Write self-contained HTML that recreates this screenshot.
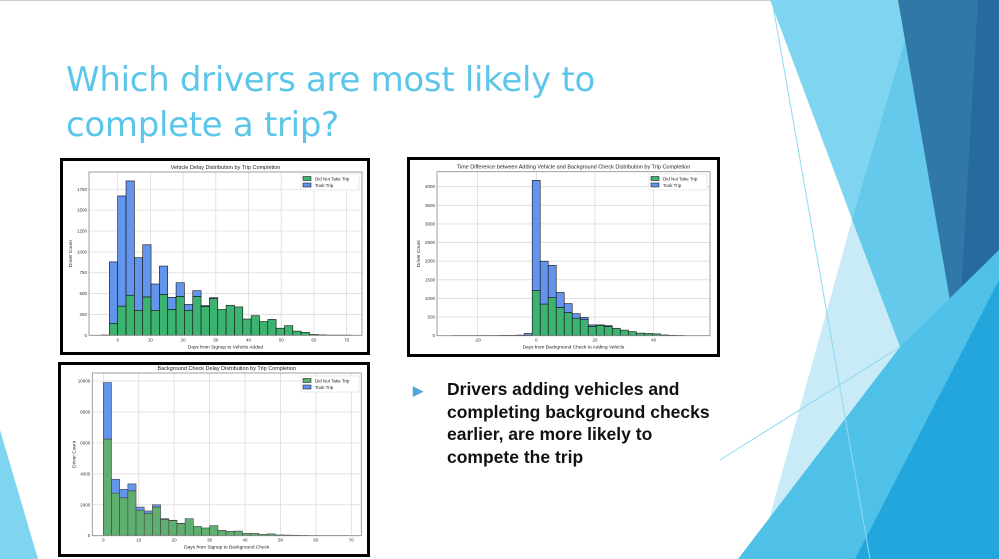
<!DOCTYPE html>
<html><head><meta charset="utf-8">
<style>
body{margin:0;width:999px;height:559px;overflow:hidden;background:#fff;font-family:"Liberation Sans",sans-serif;position:relative}
#deco{position:absolute;left:0;top:0}
.title{position:absolute;left:66px;top:58px;font-size:34px;line-height:45px;color:#5bc6ea;font-family:"DejaVu Sans","Liberation Sans",sans-serif;letter-spacing:-0.3px}
.box{position:absolute;border:3px solid #000;background:#fff;box-sizing:border-box}
.bullet{position:absolute;left:413px;top:378px;font-size:17.5px;line-height:22.5px;color:#111;font-weight:bold;font-family:"Liberation Sans",sans-serif}
.bullet span.arr{position:absolute;left:0;top:2px;color:#4fa8d8;font-size:13px}
.bullet div{margin-left:34px;width:270px}
#charts{position:absolute;left:0;top:0}
</style></head><body>
<svg id="deco" width="999" height="559">
<line x1="0" y1="0.5" x2="999" y2="0.5" stroke="#ccc"/>
<polygon points="770,0 898,0 958,347 900,347" fill="#7fd4ef"/>
<polygon points="905,40 958,347 900,347 852,220" fill="#64c9eb"/>
<polygon points="898,0 999,0 999,280 958,347" fill="#2f78a8"/>
<polygon points="978,0 999,0 999,280 958,347" fill="#276a9e"/>
<polygon points="852,220 900,347 857,559 758,559" fill="#c8ebf7"/>
<polygon points="738,559 900,347 999,250 999,559" fill="#4fc1e8"/>
<polygon points="855,559 999,280 999,559" fill="#22a6dc"/>
<line x1="772" y1="0" x2="870" y2="559" stroke="#8fd9f2" stroke-width="1"/>
<line x1="720" y1="460" x2="900" y2="347" stroke="#8fd9f2" stroke-width="1"/>
<polygon points="0,430 0,559 38,559" fill="#7fd4ef"/>
</svg>
<div class="title">Which drivers are most likely to<br>complete a trip?</div>
<div class="box" style="left:60px;top:158px;width:310px;height:197px"></div>
<div class="box" style="left:407px;top:157px;width:313px;height:200px"></div>
<div class="box" style="left:58px;top:362px;width:312px;height:195px"></div>
<div class="bullet"><span class="arr">▶</span><div>Drivers adding vehicles and completing background checks earlier, are more likely to compete the trip</div></div>
<svg id="charts" width="999" height="559"></svg>
<script>
// Chart 1: Vehicle delay
const c1NotTook=[3,140,350,480,300,460,300,490,310,465,300,465,345,440,310,360,340,195,235,165,190,85,115,50,35,10,5,2,2,2];
const c1Total=[3,880,1670,1850,930,1085,615,830,455,630,370,535,355,450,310,360,340,195,235,165,190,85,115,50,35,10,5,2,2,2];
const c1XTicks=[0,10,20,30,40,50,60,70];
const c1YTicks=[0,250,500,750,1000,1250,1500,1750];
// Chart 2: Time difference
const c2NotTook=[2,2,2,3,3,5,8,10,12,10,1210,850,1020,760,620,470,430,250,280,250,200,150,110,70,60,50,20,10,5];
const c2Total=[2,2,2,3,3,5,8,10,15,60,4170,2000,1890,1160,860,590,490,290,290,270,200,150,110,70,60,50,20,10,5];
const c2XTicks=[-20,0,20,40];
const c2YTicks=[0,500,1000,1500,2000,2500,3000,3500,4000];
// Chart 3: Background check delay
const c3NotTook=[6250,2750,2450,2900,1650,1450,1850,1050,980,780,1100,600,500,650,350,280,300,150,150,80,120,50,40,30,20,5,2,2,2,2];
const c3Total=[9900,3650,3000,3350,1850,1600,2000,1100,1000,800,1100,600,500,650,350,280,300,150,150,80,120,50,40,30,20,5,2,2,2,2];
const c3XTicks=[0,10,20,30,40,50,60,70];
const c3YTicks=[0,2000,4000,6000,8000,10000];

const NS='http://www.w3.org/2000/svg';
const root=document.getElementById('charts');
function mk(tag,attrs,parent){const e=document.createElementNS(NS,tag);for(const k in attrs)e.setAttribute(k,attrs[k]);(parent||root).appendChild(e);return e;}
function txt(s,attrs,parent){const e=mk('text',attrs,parent);e.textContent=s;return e;}

function drawHist(cfg,notTook,total,xTicks,yTicks){
  const g=mk('g',{});
  
  
  const X=v=>cfg.x0+v*cfg.kx, Y=v=>cfg.y0-v*cfg.ky;
  const p=cfg.plot;
  xTicks.forEach(t=>{
    const l=mk('line',{x1:X(t),x2:X(t),y1:p.t,y2:p.b,stroke:'#dcdcdc','stroke-width':0.8},g);
    
    
    const tl=txt(String(t),{x:X(t),y:p.b+6,'font-size':4.5,'text-anchor':'middle',fill:'#333'},g);
    
    
  });
  yTicks.forEach(t=>{
    const l=mk('line',{x1:p.l,x2:p.r,y1:Y(t),y2:Y(t),stroke:'#dcdcdc','stroke-width':0.8},g);
    
    
    const tl=txt(String(t),{x:p.l-2,y:Y(t)+1.5,'font-size':4.5,'text-anchor':'end',fill:'#333'},g);
    
    
  });
  for(let i=0;i<total.length;i++){
    const x0=cfg.start+i*cfg.w;
    const bx=X(x0), bw=cfg.w*cfg.kx;
    const gr=mk('rect',{x:bx,y:Y(notTook[i]),width:bw,height:Y(0)-Y(notTook[i]),fill:cfg.green,stroke:cfg.edge,'stroke-width':0.6},g);
    
    
    if(total[i]>notTook[i]){
      const bl=mk('rect',{x:bx,y:Y(total[i]),width:bw,height:Y(notTook[i])-Y(total[i]),fill:'#6495ed',stroke:cfg.edge,'stroke-width':0.6},g);
      
      
    }
  }
  const fr=mk('rect',{x:p.l,y:p.t,width:p.r-p.l,height:p.b-p.t,fill:'none',stroke:'#888','stroke-width':0.8},g);
  
  
  const tt=txt(cfg.title,{x:(p.l+p.r)/2,y:p.t-3,'font-size':5.5,'text-anchor':'middle',fill:'#222'},g);
  
  
  const xt=txt(cfg.xlabel,{x:(p.l+p.r)/2,y:p.b+13,'font-size':4.8,'text-anchor':'middle',fill:'#222'},g);
  
  
  const yx=p.l-17,yy=(p.t+p.b)/2;
  const yt=txt('Driver Count',{x:yx,y:yy,'font-size':4.8,'text-anchor':'middle',fill:'#222',transform:'rotate(-90 '+yx+' '+yy+')'},g);
  
  
  const L=cfg.legend;
  const lb=mk('rect',{x:L.x,y:L.y,width:58,height:16,fill:'#fff',stroke:'#ddd','stroke-width':0.6},g);
  
  
  [['Did Not Take Trip',cfg.green],['Took Trip','#6495ed']].forEach((e,k)=>{
    const sw=mk('rect',{x:L.x+2,y:L.y+2.5+k*6.5,width:8,height:4,fill:e[1],stroke:'#000','stroke-width':0.5},g);
    
    
    const lt=txt(e[0],{x:L.x+14,y:L.y+6.3+k*6.5,'font-size':4.5,fill:'#222'},g);
    
    
  });
}
drawHist({name:'vehicle-delay-chart',title:'Vehicle Delay Distribution by Trip Completion',xlabel:'Days from Signup to Vehicle Added',
  x0:117.7,kx:3.27,y0:335.3,ky:0.08344,start:-5.1,w:2.55,plot:{l:89,r:362,t:172,b:335.3},legend:{x:301,y:174},green:'#3cb371',edge:'#111'},
  c1NotTook,c1Total,c1XTicks,c1YTicks);
drawHist({name:'time-difference-chart',title:'Time Difference between Adding Vehicle and Background Check Distribution by Trip Completion',xlabel:'Days from Background Check to Adding Vehicle',
  x0:536.3,kx:2.933,y0:335.7,ky:0.03725,start:-28.7,w:2.73,plot:{l:437,r:710,t:171.7,b:335.7},legend:{x:649,y:174},green:'#3cb371',edge:'#111'},
  c2NotTook,c2Total,c2XTicks,c2YTicks);
drawHist({name:'background-check-chart',title:'Background Check Delay Distribution by Trip Completion',xlabel:'Days from Signup to Background Check',
  x0:103.3,kx:3.543,y0:535.7,ky:0.01547,start:0,w:2.31,plot:{l:92.3,r:361.3,t:373,b:535.7},legend:{x:301,y:376},green:'#5fb070',edge:'#444'},
  c3NotTook,c3Total,c3XTicks,c3YTicks);
</script>
</body></html>
